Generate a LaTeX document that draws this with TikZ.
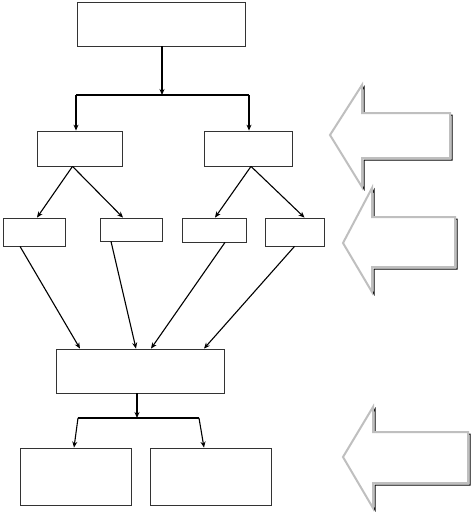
\documentclass[tikz,border=0pt]{standalone}
\usetikzlibrary{arrows.meta}
\begin{document}
\begin{tikzpicture}[x=1pt, y=-1pt,
    box/.style={draw=black!80, line width=0.8pt, fill=white, inner sep=0pt},
    conn/.style={line width=1.1pt, -{Stealth[length=6pt, width=5pt]}},
    bar/.style={line width=1.1pt},
    blockarrow/.style={draw=black!25, line width=2pt, fill=white, line join=miter},
    blockshadow/.style={draw=black, line width=1pt}]
    \useasboundingbox (0,0) rectangle (474,515);

    % boxes
    \node[box, minimum width=168pt, minimum height=44pt] (top) at (161,24) {};
    \node[box, minimum width=85pt, minimum height=35pt] (sa) at (79.5,148.5) {};
    \node[box, minimum width=88pt, minimum height=35pt] (sb) at (248,148.5) {};
    \node[box, minimum width=62pt, minimum height=28pt] (ta) at (34,232) {};
    \node[box, minimum width=62pt, minimum height=23pt] (tb) at (131,229.5) {};
    \node[box, minimum width=64pt, minimum height=24pt] (tc) at (214,230) {};
    \node[box, minimum width=59pt, minimum height=28pt] (td) at (294.5,232) {};
    \node[box, minimum width=168pt, minimum height=44pt] (mid) at (140,371) {};
    \node[box, minimum width=111pt, minimum height=57pt] (bl) at (75.5,476.5) {};
    \node[box, minimum width=121pt, minimum height=57pt] (br) at (210.5,476.5) {};

    % first split
    \coordinate (j1) at (162,95);
    \coordinate (j1a) at (76,95); \coordinate (j1b) at (249,95);
    \draw[conn] ([xshift=1pt]top.south) -- (j1);
    \draw[bar] (j1a) -- (j1b);
    \draw[conn] (j1a) -- (j1a |- sa.north);
    \draw[conn] (j1b) -- (j1b |- sb.north);

    % second level
    \draw[conn] ([xshift=-7pt]sa.south) -- ([xshift=3pt]ta.north);
    \draw[conn] ([xshift=-7pt]sa.south) -- ([xshift=-8pt]tb.north);
    \draw[conn] ([xshift=3pt]sb.south) -- ([xshift=1pt]tc.north);
    \draw[conn] ([xshift=3pt]sb.south) -- ([xshift=10pt]td.north);

    % into the middle box
    \draw[conn] ([xshift=-14pt]ta.south) -- ([xshift=-60pt]mid.north);
    \draw[conn] ([xshift=-20pt]tb.south) -- ([xshift=-4pt]mid.north);
    \draw[conn] ([xshift=11pt]tc.south) -- ([xshift=11pt]mid.north);
    \draw[conn] (td.south) -- ([xshift=64pt]mid.north);

    % last split
    \coordinate (j2) at (137,418);
    \coordinate (j2a) at (78,418); \coordinate (j2b) at (199,418);
    \draw[conn] ([xshift=-3pt]mid.south) -- (j2);
    \draw[bar] (j2a) -- (j2b);
    \draw[conn] (j2a) -- ([xshift=-1.5pt]bl.north);
    \draw[conn] (j2b) -- ([xshift=-6.5pt]br.north);

    % block arrows
    \foreach \tx/\ty/\hx/\ht/\hb/\st/\sb/\rx in
        {330/135/362/85/187/113/158/450,
         343/243/372/188/292/217/267/455,
         343/457/373/407/508/432/483/468} {
        \draw[blockshadow] (\tx+2,\ty+2) -- (\hx+2,\ht+2) -- (\hx+2,\st+2) -- (\rx+2,\st+2)
            -- (\rx+2,\sb+2) -- (\hx+2,\sb+2) -- (\hx+2,\hb+2) -- cycle;
        \draw[blockarrow] (\tx,\ty) -- (\hx,\ht) -- (\hx,\st) -- (\rx,\st)
            -- (\rx,\sb) -- (\hx,\sb) -- (\hx,\hb) -- cycle;
    }
\end{tikzpicture}
\end{document}
